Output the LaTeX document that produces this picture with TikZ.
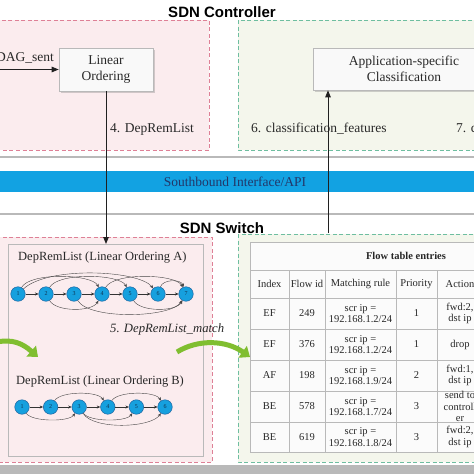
\documentclass[tikz,border=0pt]{standalone}
\usepackage{fontspec}
\setmainfont{Liberation Serif}
\newfontfamily\headsans{Liberation Sans}
\usetikzlibrary{arrows.meta,shadows}
\definecolor{pinkfill}{RGB}{251,236,238}
\definecolor{pinkline}{RGB}{222,128,150}
\definecolor{greenfill}{RGB}{244,246,236}
\definecolor{greenline}{RGB}{110,190,160}
\definecolor{bandblue}{RGB}{18,162,226}
\definecolor{bandtext}{RGB}{35,55,105}
\definecolor{nodeblue}{RGB}{22,160,222}
\definecolor{nodeedge}{RGB}{30,100,160}
\definecolor{arrowgreen}{RGB}{128,190,48}
\definecolor{sepgray}{RGB}{185,185,185}
\definecolor{tabline}{RGB}{185,185,185}
\definecolor{textdark}{RGB}{40,40,40}
\begin{document}
\begin{tikzpicture}[x=1pt,y=-1pt,
  region/.style={dash pattern=on 4pt off 2.5pt, line width=0.9pt},
  ctlpink/.style={region, draw=pinkline, fill=pinkfill},
  ctlgreen/.style={region, draw=greenline, fill=greenfill},
  procbox/.style={draw=gray!55, fill=gray!5, line width=0.6pt, align=center,
    font=\fontsize{13.5}{16}\selectfont, text=textdark,
    drop shadow={shadow xshift=1.5pt, shadow yshift=-1.5pt, opacity=0.35, fill=gray}},
  flow/.style={draw=gray!25!black, line width=0.9pt, -{Triangle[length=7pt,width=5.5pt]}},
  lbl/.style={font=\fontsize{13.5}{16}\selectfont, text=textdark, inner sep=0},
  seq/.style={circle, fill=nodeblue, draw=nodeedge, line width=0.5pt, minimum size=14.5pt,
    inner sep=0, font=\fontsize{6}{6}\selectfont, text=nodeedge!50!black},
  chain/.style={draw=gray!40!black, line width=0.5pt, -{Stealth[length=3.5pt,width=3pt]}},
  dep/.style={draw=gray!55!black, line width=0.4pt, -{Stealth[length=3.5pt,width=3pt]}},
  bigarrow/.style={draw=arrowgreen, line width=5pt, -{Triangle[length=9pt,width=14pt]}},
  cell/.style={font=\fontsize{10.5}{11.5}\selectfont, align=center, text=textdark, inner sep=0},
  title/.style={font=\headsans\bfseries\fontsize{15}{18}\selectfont, inner sep=0}
]
\useasboundingbox (0,0) rectangle (474,474);
\clip (0,0) rectangle (474,474);
\fill[white] (0,0) rectangle (474,474);

% ---------- controller ----------
\path[ctlpink] (-10,20) rectangle (209,150);
\path[ctlgreen] (238,20) rectangle (485,150);
\node[title] (ctltitle) at (222,12) {SDN Controller};
\node[procbox, minimum width=94pt, minimum height=43pt] (lin) at (106,69.5) {Linear\\Ordering};
\node[procbox, minimum width=182pt, minimum height=42pt] (app) at (404,69) {Application-specific\\Classification};
\node[lbl, anchor=base east] (dag) at (54,61) {DAG\_sent};
\node[lbl, anchor=base west] (step4) at (110,132) {4. DepRemList};
\node[lbl, anchor=base west] (step6) at (251,132) {6. classification\_features};
\node[lbl, anchor=base west] (step7) at (456,132) {7. classification};

% ---------- southbound ----------
\draw[sepgray, line width=1.5pt] (0,157) -- (474,157);
\draw[sepgray, line width=1.5pt] (0,214) -- (474,214);
\fill[bandblue] (0,171) rectangle (474,192);
\node[lbl, text=bandtext] (sbi) at (235,182) {Southbound Interface/API};

% ---------- switch ----------
\path[ctlpink] (-10,237) rectangle (212,462);
\path[ctlgreen] (238,234) rectangle (485,462);
\node[title] (swtitle) at (222,228) {SDN Switch};
\fill[sepgray] (0,465) rectangle (474,474);

\node[draw=gray!55, line width=0.8pt, minimum width=195pt, minimum height=212pt,
  anchor=north west, inner sep=0] (depbox) at (8,244) {};
\node[lbl, font=\fontsize{12.5}{15}\selectfont, anchor=base west] (headA) at (18,260) {DepRemList (Linear Ordering A)};
\node[lbl, font=\fontsize{12.5}{15}\selectfont, anchor=base west] (headB) at (16,384) {DepRemList (Linear Ordering B)};
\node[lbl, font=\itshape\fontsize{12.7}{15}\selectfont, anchor=base west] (step5) at (110,332) {5. DepRemList\_match};

% graph A
\foreach \i in {1,...,7} \node[seq] (a\i) at ({18+28*(\i-1)},294) {\i};
\foreach \i/\j in {1/2,2/3,3/4,4/5,5/6,6/7} \draw[chain] (a\i) -- (a\j);
\draw[dep] (a1) .. controls +(12,-22) and +(-10,-20) .. (a4);
\draw[dep] (a2) .. controls +(12,-22) and +(-10,-20) .. (a5);
\draw[dep] (a4) .. controls +(12,-22) and +(-10,-20) .. (a7);
\draw[dep] (a1) .. controls +(30,-28) and +(-20,-24) .. (a6);
\draw[dep] (a6) .. controls +(5,-15) and +(-5,-15) .. (a7);
\draw[dep] (a2) .. controls +(10,18) and +(-10,18) .. (a4);
\draw[dep] (a3) .. controls +(15,26) and +(-15,24) .. (a7);
\draw[dep] (a5) .. controls +(10,18) and +(-10,18) .. (a7);

% graph B
\foreach \i in {1,...,6} \node[seq] (b\i) at ({22+28.6*(\i-1)},407) {\i};
\foreach \i/\j in {1/2,2/3,3/4,4/5,5/6} \draw[chain] (b\i) -- (b\j);
\draw[dep] (b2) .. controls +(10,-16) and +(-10,-16) .. (b4);
\draw[dep] (b4) .. controls +(10,-16) and +(-10,-16) .. (b6);
\draw[dep] (b1) .. controls +(10,15) and +(-10,15) .. (b3);
\draw[dep] (b3) .. controls +(10,15) and +(-10,15) .. (b5);
\draw[dep] (b3) .. controls +(14,23) and +(-14,21) .. (b6);

% flow table
\path[draw=tabline, fill=gray!3, line width=0.8pt] (250,242) rectangle (490,452);
\foreach \y in {270,298,329,360,391,422} \draw[tabline, line width=0.7pt] (250,\y) -- (490,\y);
\foreach \x in {289,325,396,437} \draw[tabline, line width=0.7pt] (\x,270) -- (\x,452);
\node[cell, font=\bfseries\fontsize{10.5}{12}\selectfont] (fthead) at (406,256) {Flow table entries};
\node[cell] (hc1) at (269.5,284) {Index};
\node[cell] (hc2) at (307,284) {Flow id};
\node[cell] (hc3) at (360.5,284) {Matching rule};
\node[cell] (hc4) at (416.5,284) {Priority};
\node[cell] (hc5) at (460,284) {Action};
\foreach \n/\yy/\idx/\fid/\ip/\pr/\act in {
  1/313.5/EF/249/192.168.1.2\slash 24/1/{fwd:2,\\dst ip},
  2/344.5/EF/376/192.168.1.2\slash 24/1/drop,
  3/375.5/AF/198/192.168.1.9\slash 24/2/{fwd:1,\\dst ip},
  4/406.5/BE/578/192.168.1.7\slash 24/3/{send to\\controll\\er},
  5/437/BE/619/192.168.1.8\slash 24/3/{fwd:2,\\dst ip}} {
  \node[cell] (r\n c1) at (269.5,\yy) {\idx};
  \node[cell] (r\n c2) at (307,\yy) {\fid};
  \node[cell] (r\n c3) at (360.5,\yy) {scr ip =\\\ip};
  \node[cell] (r\n c4) at (416.5,\yy) {\pr};
  \node[cell] (r\n c5) at (460,\yy) {\act};
}

% green arrows
\coordinate (gL0) at (-3,342);
\coordinate (gL1) at (38,357);
\draw[bigarrow] (gL0) .. controls (12,339) and (22,343) .. (gL1);
\coordinate (gR0) at (177,352);
\coordinate (gR1) at (250,357);
\draw[bigarrow] (gR0) .. controls (198,339) and (226,340) .. (gR1);

% connectors
\coordinate (dagin) at (-2,69.5);
\draw[flow] (dagin) -- (lin.west);
\draw[flow] (lin.south) -- (lin.south |- depbox.north);
\coordinate (clsin) at (328,233);
\draw[flow] (clsin) -- (clsin |- app.south);
\end{tikzpicture}
\end{document}
